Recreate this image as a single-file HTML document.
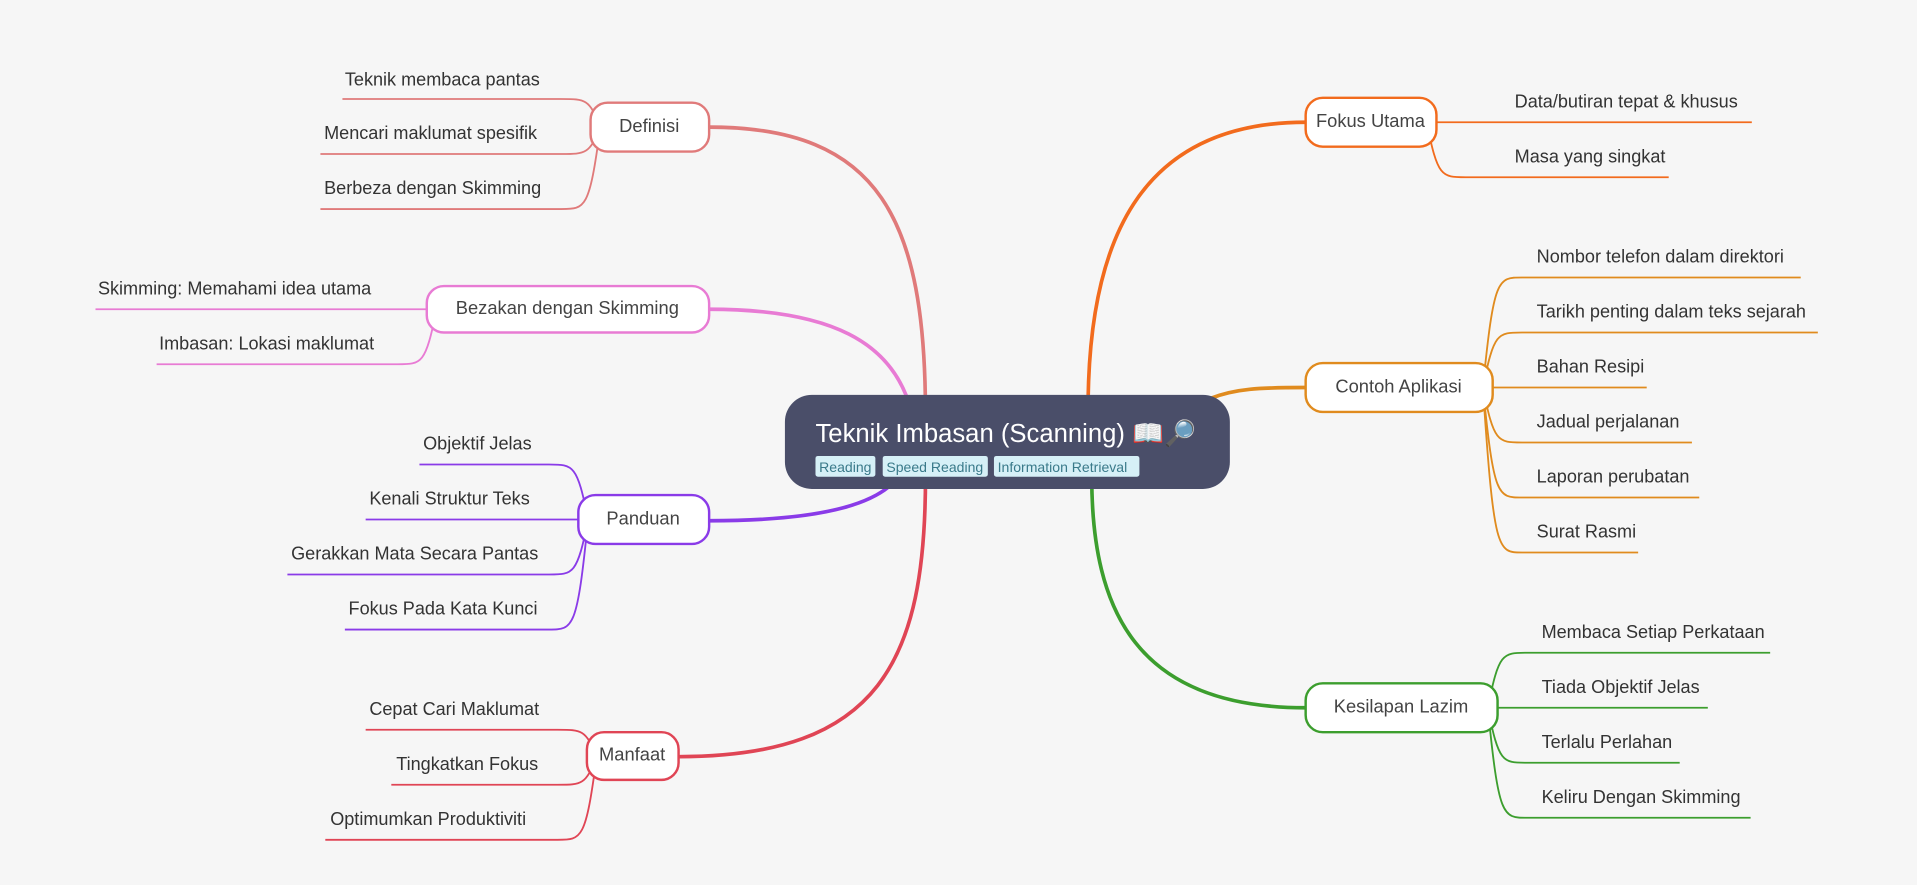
<!DOCTYPE html>
<html><head><meta charset="utf-8"><style>
html,body{margin:0;padding:0;background:#f6f6f6;}
svg{display:block;}
text{font-family:"Liberation Sans",sans-serif;}
.l{font-size:14.8px;fill:#333;dominant-baseline:middle;}
.n{font-size:15px;fill:#444;dominant-baseline:middle;text-anchor:middle;}
path{fill:none;}
</style></head><body>
<svg width="1917" height="885" viewBox="0 0 1568 724" xmlns="http://www.w3.org/2000/svg">
<rect width="1568" height="724" fill="#f6f6f6"/>
<g stroke-width="3" fill="none">
<path d="M580,104 C720,104 757,180 757,340" stroke="#e07a7a"/>
<path d="M580,253 C680,253 730,280 745,335" stroke="#e87bd4"/>
<path d="M580,426 C680,426 720,410 735,390" stroke="#8a3be8"/>
<path d="M555,619 C720,619 757,540 757,390" stroke="#e04555"/>
<path d="M1068,100 C930,100 890,200 890,335" stroke="#f26b1d"/>
<path d="M1068,317 C1030,317 1010,318 990,326" stroke="#e08b1e"/>
<path d="M1068,579 C930,579 893,500 893,390" stroke="#3c9e2e"/>
</g>
<g stroke-width="1.5" fill="none">
<g stroke="#e07a7a">
<path d="M491,104 C482,81 479,81 459,81 H280"/>
<path d="M491,104 C482,126 479,126 459,126 H262"/>
<path d="M491,104 C482,171 479,171 459,171 H262"/>
</g>
<g stroke="#e87bd4">
<path d="M357,253 H78"/>
<path d="M357,253 C348,298 345,298 325,298 H128"/>
</g>
<g stroke="#8a3be8">
<path d="M481,425 C472,380 469,380 449,380 H343"/>
<path d="M481,425 H299"/>
<path d="M481,425 C472,470 469,470 449,470 H235"/>
<path d="M481,425 C472,515 469,515 449,515 H282"/>
</g>
<g stroke="#e04555">
<path d="M488,619 C479,597 476,597 456,597 H299"/>
<path d="M488,619 C479,642 476,642 456,642 H320"/>
<path d="M488,619 C479,687 476,687 456,687 H266"/>
</g>
<g stroke="#f26b1d">
<path d="M1167,100 H1433"/>
<path d="M1167,100 C1176,145 1179,145 1199,145 H1365"/>
</g>
<g stroke="#e08b1e">
<path d="M1213,317 C1222,227 1225,227 1245,227 H1473"/>
<path d="M1213,317 C1222,272 1225,272 1245,272 H1487"/>
<path d="M1213,317 H1347"/>
<path d="M1213,317 C1222,362 1225,362 1245,362 H1384"/>
<path d="M1213,317 C1222,407 1225,407 1245,407 H1390"/>
<path d="M1213,317 C1222,452 1225,452 1245,452 H1340"/>
</g>
<g stroke="#3c9e2e">
<path d="M1217,579 C1226,534 1229,534 1249,534 H1448"/>
<path d="M1217,579 H1397"/>
<path d="M1217,579 C1226,624 1229,624 1249,624 H1374"/>
<path d="M1217,579 C1226,669 1229,669 1249,669 H1432"/>
</g>
</g>
<g>
<text class="l" x="282" y="66">Teknik membaca pantas</text>
<text class="l" x="265" y="110">Mencari maklumat spesifik</text>
<text class="l" x="265" y="155">Berbeza dengan Skimming</text>
<text class="l" x="80" y="237">Skimming: Memahami idea utama</text>
<text class="l" x="130" y="282">Imbasan: Lokasi maklumat</text>
<text class="l" x="346" y="364">Objektif Jelas</text>
<text class="l" x="302" y="409">Kenali Struktur Teks</text>
<text class="l" x="238" y="454">Gerakkan Mata Secara Pantas</text>
<text class="l" x="285" y="499">Fokus Pada Kata Kunci</text>
<text class="l" x="302" y="581">Cepat Cari Maklumat</text>
<text class="l" x="324" y="626">Tingkatkan Fokus</text>
<text class="l" x="270" y="671">Optimumkan Produktiviti</text>
<text class="l" x="1239" y="84">Data/butiran tepat &amp; khusus</text>
<text class="l" x="1239" y="129">Masa yang singkat</text>
<text class="l" x="1257" y="211">Nombor telefon dalam direktori</text>
<text class="l" x="1257" y="256">Tarikh penting dalam teks sejarah</text>
<text class="l" x="1257" y="301">Bahan Resipi</text>
<text class="l" x="1257" y="346">Jadual perjalanan</text>
<text class="l" x="1257" y="391">Laporan perubatan</text>
<text class="l" x="1257" y="436">Surat Rasmi</text>
<text class="l" x="1261" y="518">Membaca Setiap Perkataan</text>
<text class="l" x="1261" y="563">Tiada Objektif Jelas</text>
<text class="l" x="1261" y="608">Terlalu Perlahan</text>
<text class="l" x="1261" y="653">Keliru Dengan Skimming</text>
</g>
<g stroke-width="2" fill="#fff">
<rect x="483" y="84" width="97" height="40" rx="14" stroke="#e07a7a"/>
<rect x="349" y="234" width="231" height="38" rx="14" stroke="#e87bd4"/>
<rect x="473" y="405" width="107" height="40" rx="14" stroke="#8a3be8"/>
<rect x="480" y="599" width="75" height="39" rx="14" stroke="#e04555"/>
<rect x="1068" y="80" width="107" height="40" rx="14" stroke="#f26b1d"/>
<rect x="1068" y="297" width="153" height="40" rx="14" stroke="#e08b1e"/>
<rect x="1068" y="559" width="157" height="40" rx="14" stroke="#3c9e2e"/>
</g>
<text class="n" x="531" y="104">Definisi</text>
<text class="n" x="464" y="253">Bezakan dengan Skimming</text>
<text class="n" x="526" y="425">Panduan</text>
<text class="n" x="517" y="618">Manfaat</text>
<text class="n" x="1121" y="100">Fokus Utama</text>
<text class="n" x="1144" y="317">Contoh Aplikasi</text>
<text class="n" x="1146" y="579">Kesilapan Lazim</text>
<rect x="642" y="323" width="364" height="77" rx="22" fill="#4a4e69"/>
<text x="667" y="356" font-size="21" fill="#fff" style="dominant-baseline:middle">Teknik Imbasan (Scanning) 📖🔎</text>
<g font-size="11.5" fill="#3a7a8a">
<rect x="667" y="373" width="49" height="17" rx="2" fill="#d6f0f7"/>
<text x="670" y="386">Reading</text>
<rect x="722" y="373" width="86" height="17" rx="2" fill="#d6f0f7"/>
<text x="725" y="386">Speed Reading</text>
<rect x="813" y="373" width="119" height="17" rx="2" fill="#d6f0f7"/>
<text x="816" y="386">Information Retrieval</text>
</g>
</svg>
</body></html>
